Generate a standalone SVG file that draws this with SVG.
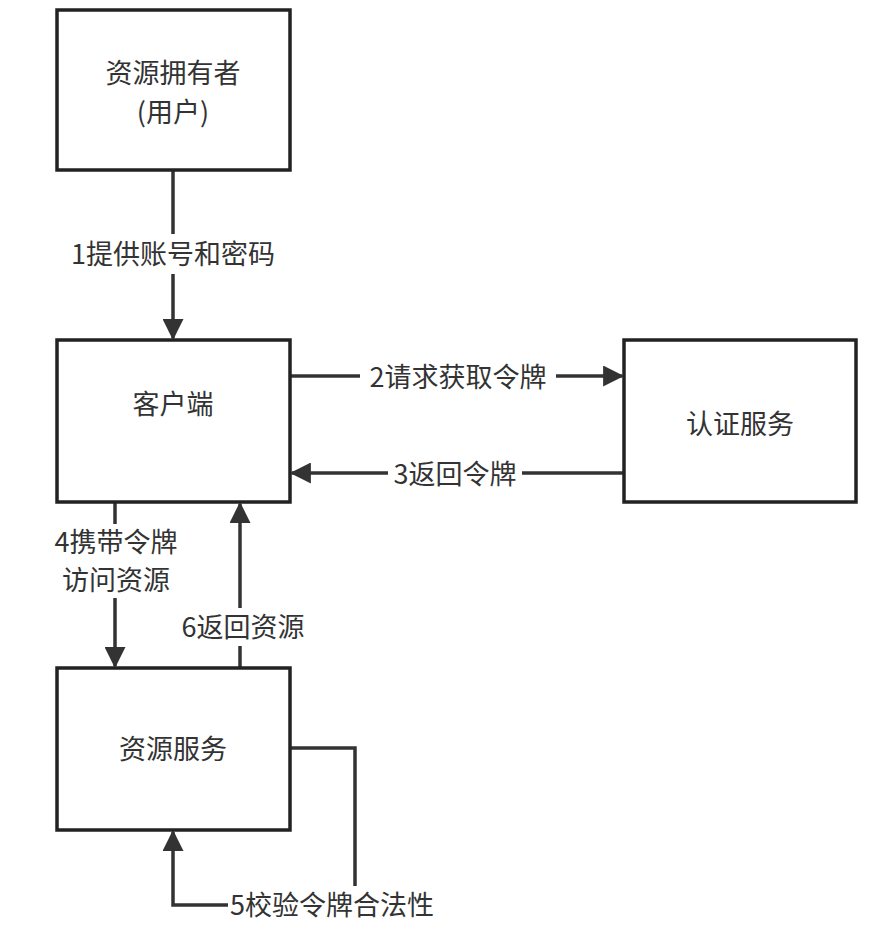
<svg xmlns="http://www.w3.org/2000/svg" width="877" height="947" viewBox="0 0 877 947">
<defs>
<marker id="ah" viewBox="0 0 10 10" refX="9" refY="5" markerWidth="6" markerHeight="6" orient="auto-start-reverse" markerUnits="strokeWidth"><path d="M0,0L10,5L0,10z" fill="#333"/></marker>
<style>
.b{fill:#fff;stroke:#222;stroke-width:3.5}
.l{fill:none;stroke:#333;stroke-width:3.5}
text{font-family:"Noto Sans CJK SC","Liberation Sans",sans-serif;font-size:27px;fill:#333}
.c{text-anchor:middle}
.bg{fill:#fff}
</style>
</defs>
<rect width="877" height="947" fill="#fff"/>
<g id="connectors">
<path class="l" d="M173,170V338" marker-end="url(#ah)"/>
<path class="l" d="M290,376H622" marker-end="url(#ah)"/>
<path class="l" d="M624,473H292" marker-end="url(#ah)"/>
<path class="l" d="M115,502V666" marker-end="url(#ah)"/>
<path class="l" d="M240,668V504" marker-end="url(#ah)"/>
<path class="l" d="M290,748H355V905H173V832" marker-end="url(#ah)"/>
<rect class="bg" x="60" y="234" width="226" height="40"/>
<text class="c" x="173" y="264">1提供账号和密码</text>
<rect class="bg" x="360" y="358" width="196" height="38"/>
<text class="c" x="458" y="387">2请求获取令牌</text>
<rect class="bg" x="388" y="455" width="134" height="38"/>
<text class="c" x="455" y="484">3返回令牌</text>
<rect class="bg" x="48" y="524" width="136" height="74"/>
<text class="c" x="116" y="552">4携带令牌</text>
<text class="c" x="116" y="590">访问资源</text>
<rect class="bg" x="175" y="608" width="136" height="38"/>
<text class="c" x="243" y="637">6返回资源</text>
<rect class="bg" x="228" y="886" width="228" height="38"/>
<text x="230" y="915">5校验令牌合法性</text>
</g>
<g id="owner"><rect class="b" x="57" y="10" width="233" height="160"/>
<text class="c" x="173" y="83">资源拥有者</text><text class="c" x="173" y="122">(用户)</text></g>
<g id="client"><rect class="b" x="57" y="340" width="233" height="162"/>
<text class="c" x="173" y="414">客户端</text></g>
<g id="auth"><rect class="b" x="624" y="340" width="232" height="162"/>
<text class="c" x="740" y="434">认证服务</text></g>
<g id="resource"><rect class="b" x="57" y="668" width="233" height="162"/>
<text class="c" x="173" y="759">资源服务</text></g>
</svg>
